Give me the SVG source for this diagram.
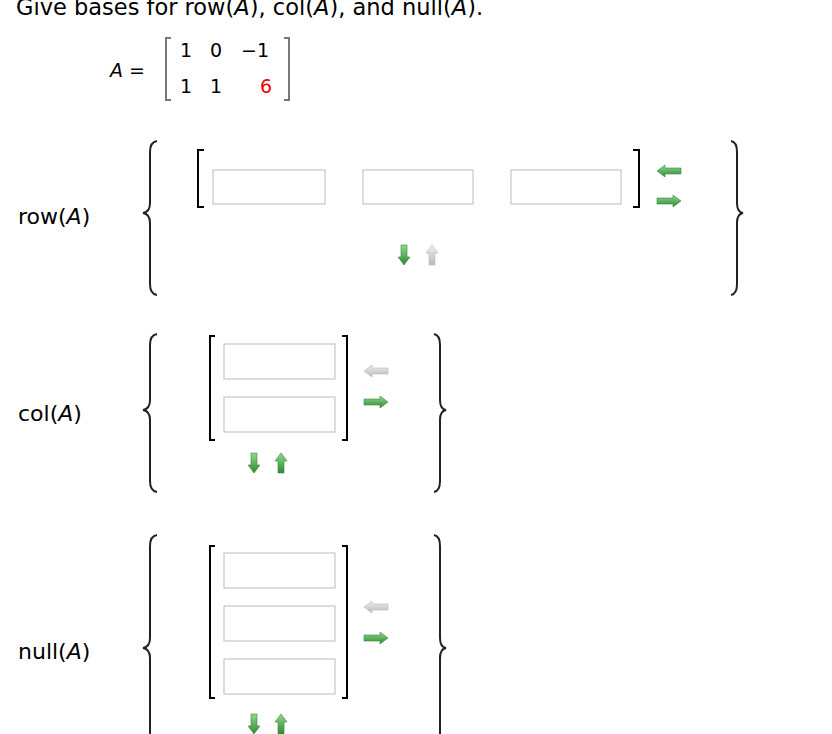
<svg xmlns="http://www.w3.org/2000/svg" width="832" height="734" viewBox="0 0 832 734">
<style>
text{font-family:"DejaVu Sans",Verdana,sans-serif;fill:#000}
.t{font-size:22.5px}
.l{font-size:22px}
.m{font-size:19px}
.box{fill:#fff;stroke:#bbb;stroke-width:1}
.br{fill:none;stroke:#000;stroke-width:2}
.mb{fill:none;stroke:#777;stroke-width:2}
.brace{fill:none;stroke:#222;stroke-width:2}
.g{fill:url(#gg);stroke:#3b8a3b;stroke-width:0.6}
.gr{fill:url(#gy);stroke:#bbb;stroke-width:0.6}
</style>
<defs>
<linearGradient id="gg" x1="0" y1="0" x2="0" y2="1"><stop offset="0" stop-color="#8fd88f"/><stop offset="1" stop-color="#2f8a2f"/></linearGradient>
<linearGradient id="gy" x1="0" y1="0" x2="0" y2="1"><stop offset="0" stop-color="#eee"/><stop offset="1" stop-color="#bbb"/></linearGradient>
<polygon id="la" points="0,0 8,-6 8,-3 24,-3 24,3 8,3 8,6"/>
<polygon id="ra" points="24,0 16,-6 16,-3 0,-3 0,3 16,3 16,6"/>
<polygon id="da" points="0,20 -6,12 -3,12 -3,0 3,0 3,12 6,12"/>
<polygon id="ua" points="0,0 -6,8 -3,8 -3,20 3,20 3,8 6,8"/>
</defs>
<text class="t" x="16" y="15">Give bases for row(<tspan font-style="italic">A</tspan>), col(<tspan font-style="italic">A</tspan>), and null(<tspan font-style="italic">A</tspan>).</text>
<g id="matrix">
<text class="m" x="110" y="77"><tspan font-style="italic">A</tspan> =</text>
<path class="mb" d="M171,38 H166 V100 H171 M284,38 H289 V100 H284"/>
<text class="m" x="180" y="57">1</text><text class="m" x="210" y="57">0</text><text class="m" x="241" y="57">−1</text>
<text class="m" x="180" y="93">1</text><text class="m" x="210" y="93">1</text><text class="m" x="260" y="93" style="fill:#e00">6</text>
</g>
<g id="row">
<text class="l" x="18" y="224">row(<tspan font-style="italic">A</tspan>)</text>
<path class="brace" d="M157,141 Q150,142 150,152 V203 Q150,212 143,213 Q150,214 150,223 V284 Q150,294 157,295"/>
<path class="brace" d="M731,141 Q737,142 737,152 V203 Q737,212 743,213 Q737,214 737,223 V284 Q737,294 731,295"/>
<path class="br" d="M204,150 H198 V207 H204 M633,150 H639 V207 H633"/>
<rect class="box" x="213" y="170" width="112" height="34"/>
<rect class="box" x="363" y="170" width="110" height="34"/>
<rect class="box" x="511" y="170" width="110" height="34"/>
<use href="#la" class="g" x="657" y="171"/>
<use href="#ra" class="g" x="657" y="201"/>
<use href="#da" class="g" x="404" y="245"/>
<use href="#ua" class="gr" x="432" y="245"/>
</g>
<g id="col">
<text class="l" x="18" y="421">col(<tspan font-style="italic">A</tspan>)</text>
<path class="brace" d="M157,334 Q150,335 150,345 V400 Q150,409 143,410 Q150,411 150,420 V481 Q150,491 157,492"/>
<path class="brace" d="M434,334 Q440,335 440,345 V400 Q440,409 446,410 Q440,411 440,420 V481 Q440,491 434,492"/>
<path class="br" d="M215,336 H210 V440 H215 M342,336 H347 V440 H342"/>
<rect class="box" x="224" y="344" width="111" height="35"/>
<rect class="box" x="224" y="397" width="111" height="35"/>
<use href="#la" class="gr" x="364" y="371"/>
<use href="#ra" class="g" x="364" y="402"/>
<use href="#da" class="g" x="254" y="453"/>
<use href="#ua" class="g" x="281" y="453"/>
</g>
<g id="null">
<text class="l" x="18" y="659">null(<tspan font-style="italic">A</tspan>)</text>
<path class="brace" d="M157,535 Q150,536 150,546 V638 Q150,647 143,648 Q150,649 150,658 V740"/>
<path class="brace" d="M434,535 Q440,536 440,546 V638 Q440,647 446,648 Q440,649 440,658 V740"/>
<path class="br" d="M215,546 H210 V698 H215 M342,546 H347 V698 H342"/>
<rect class="box" x="224" y="553" width="111" height="35"/>
<rect class="box" x="224" y="606" width="111" height="35"/>
<rect class="box" x="224" y="659" width="111" height="35"/>
<use href="#la" class="gr" x="364" y="607"/>
<use href="#ra" class="g" x="364" y="638"/>
<use href="#da" class="g" x="254" y="714"/>
<use href="#ua" class="g" x="281" y="714"/>
</g>
</svg>
